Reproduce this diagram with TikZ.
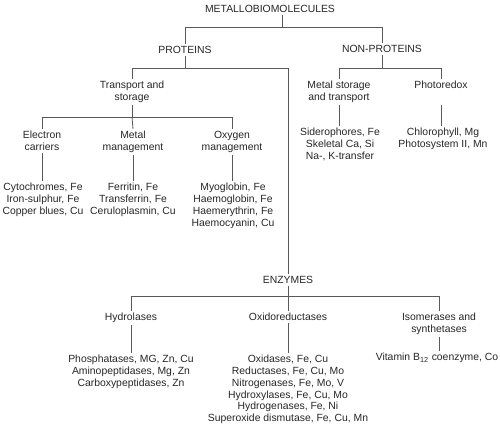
\documentclass[tikz,border=0pt]{standalone}
\usepackage{fontspec}
\setmainfont{Liberation Sans}
\usepackage{xcolor}
\usepackage{tikz}

\begin{document}
\begin{tikzpicture}[x=0.75pt,y=-0.75pt,
  textnode/.style={anchor=north,align=center,inner sep=1.5pt,text=black!85,
    font=\fontsize{7.8pt}{8.8pt}\selectfont},
  link/.style={draw=black!65,line width=0.6pt}]
  %\draw[help lines] (0,0) grid[step=50] (500,426);
  \useasboundingbox (0,0) rectangle (500,426);

  \draw (270,  3) node[textnode](MB)  {METALLOBIOMOLECULES};

  \draw (185, 44) node[textnode](PR)  {PROTEINS};
  \draw (382, 43) node[textnode](NP)  {NON-PROTEINS};

  \draw (132, 79) node[textnode](TS)  {Transport and\\storage};
  \draw ( 42,129) node[textnode](EC)  {Electron\\carriers};
  \draw (133,129) node[textnode](MM)  {Metal\\management};
  \draw (232,129) node[textnode](OM)  {Oxygen\\management};

  \draw ( 43,181) node[textnode](Lec) {Cytochromes, Fe\\Iron-sulphur, Fe\\Copper blues, Cu};
  \draw (133,181) node[textnode](Lmm) {Ferritin, Fe\\Transferrin, Fe\\Ceruloplasmin, Cu};
  \draw (233,181) node[textnode](Lom) {Myoglobin, Fe\\Haemoglobin, Fe\\Haemerythrin, Fe\\Haemocyanin, Cu};

  \draw (339, 79) node[textnode](MS)  {Metal storage\\and transport};
  \draw (441, 79) node[textnode](PH)  {Photoredox};
  \draw (340,126) node[textnode](Lms) {Siderophores, Fe\\Skeletal Ca, Si\\Na-, K-transfer};
  \draw (443,126) node[textnode](Lph) {Chlorophyll, Mg\\Photosystem II, Mn};

  \draw (288,274) node[textnode](EN)  {ENZYMES};
  \draw (131,311) node[textnode](HY)  {Hydrolases};
  \draw (288,311) node[textnode](OX)  {Oxidoreductases};
  \draw (439,311) node[textnode](IS)  {Isomerases and\\synthetases};

  \draw (131,353) node[textnode](Lhy) {Phosphatases, MG, Zn, Cu\\Aminopeptidases, Mg, Zn\\Carboxypeptidases, Zn};
  \draw (288,353) node[textnode](Lox) {Oxidases, Fe, Cu\\Reductases, Fe, Cu, Mo\\Nitrogenases, Fe, Mo, V\\Hydroxylases, Fe, Cu, Mo\\Hydrogenases, Fe, Ni\\Superoxide dismutase, Fe, Cu, Mn};
  \draw (437,351) node[textnode](Lis) {Vitamin B\textsubscript{12} coenzyme, Co};

  \coordinate (jMB) at (282, 27);
  \coordinate (jPR) at (185, 68);
  \coordinate (jNP) at (382, 68);
  \coordinate (jTS) at (132,117);
  \coordinate (jEN) at (288,296);

  \draw[link] (MB.south -| jMB) -- (jMB);
  \draw[link] (jMB) -| (PR.north);
  \draw[link] (jMB) -| (NP.north);

  \draw[link] (PR.south) -- (jPR);
  \draw[link] (jPR) -| (TS.north);
  \draw[link] (jPR) -| (EN.north);

  \draw[link] (TS.south) -- (jTS);
  \draw[link] (jTS) -| (EC.north);
  \draw[link] (jTS) -- (MM.north);
  \draw[link] (jTS) -| (OM.north);

  \draw[link] (EC.south) -- (EC.south |- Lec.north);
  \draw[link] (MM.south) -- (MM.south |- Lmm.north);
  \draw[link] (OM.south) -- (OM.south |- Lom.north);

  \draw[link] (NP.south) -- (jNP);
  \draw[link] (jNP) -| (MS.north);
  \draw[link] (jNP) -| (PH.north);

  \draw[link] (MS.south) -- (MS.south |- Lms.north);
  \draw[link] (PH.south |- MS.south) -- (PH.south |- Lph.north);

  \draw[link] (EN.south) -- (jEN);
  \draw[link] (jEN) -| (HY.north);
  \draw[link] (jEN) -- (OX.north);
  \draw[link] (jEN) -| (IS.north);

  \draw[link] (HY.south) -- (HY.south |- Lhy.north);
  \draw[link] (OX.south) -- (OX.south |- Lox.north);
  \draw[link] (IS.south) -- (IS.south |- Lis.north);

\end{tikzpicture}
\end{document}
